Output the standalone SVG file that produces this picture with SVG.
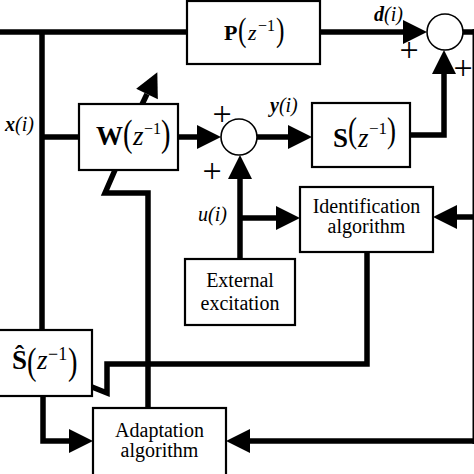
<svg xmlns="http://www.w3.org/2000/svg" width="474" height="474" viewBox="0 0 474 474">
<style>
.box{fill:#fff;stroke:#000;stroke-width:2.2}
.sum{fill:#fff;stroke:#000;stroke-width:1.6}
.wire{fill:none;stroke:#000;stroke-width:5.5}
text{font-family:"Liberation Serif","Times New Roman",serif;fill:#000}
.lbl{font-size:20px;text-anchor:middle}
.b{font-weight:bold}
.i{font-style:italic}
.sig{font-size:20px}
.pl{font-size:34px;text-anchor:middle}
</style>
<defs>
<marker id="ah" markerUnits="userSpaceOnUse" markerWidth="24" markerHeight="24" refX="0" refY="12" orient="auto" viewBox="0 0 24 24" overflow="visible"><path d="M0,0 L24,12 L0,24 z" fill="#000"/></marker>
</defs>
<rect width="474" height="474" fill="#fff"/>
<g id="connectors">
<path class="wire" d="M0,32 H187"/>
<path class="wire" d="M42,32 V330"/>
<path class="wire" d="M42,137 H79"/>
<path class="wire" d="M320,32 H403" marker-end="url(#ah)"/>
<path class="wire" d="M463,32 H474"/>
<path d="M474.5,29 V444" fill="none" stroke="#000" stroke-width="4"/>
<path class="wire" d="M474,217 H457" marker-end="url(#ah)"/>
<path class="wire" d="M474,441 H250" marker-end="url(#ah)"/>
<path class="wire" d="M410,135 H444 V74" marker-end="url(#ah)"/>
<path class="wire" d="M178,137 H197" marker-end="url(#ah)"/>
<path class="wire" d="M257,137 H288" marker-end="url(#ah)"/>
<path class="wire" d="M240,259 V179" marker-end="url(#ah)"/>
<path class="wire" d="M240,218 H276" marker-end="url(#ah)"/>
<path class="wire" d="M367,252 V364 H107 V393 L92,387"/>
<path class="wire" d="M43,396 V441 H69" marker-end="url(#ah)"/>
<path class="wire" d="M148,408 V193 H105 L115,170"/>
<path class="wire" d="M142,104.5 L147,94" marker-end="url(#ah)"/>
</g>
<g id="P">
<rect class="box" x="187" y="1" width="133" height="63"/>
<text><tspan class="b" x="224" y="40" font-size="22">P</tspan><tspan class="i" x="248" y="40" font-size="22">z</tspan><tspan x="258" y="31" font-size="16">−1</tspan></text>
<text font-size="34" transform="translate(238,41) scale(0.75,1)">(</text>
<text font-size="34" transform="translate(276,41) scale(0.75,1)">)</text>
</g>
<g id="sum1">
<circle class="sum" cx="445" cy="32" r="18"/>
</g>
<g id="W">
<rect class="box" x="79" y="104" width="99" height="66"/>
<text><tspan class="b" x="96" y="145" font-size="27">W</tspan><tspan class="i" x="133" y="145" font-size="27">z</tspan><tspan x="144" y="134" font-size="16">−1</tspan></text>
<text font-size="38" transform="translate(123,146) scale(0.75,1)">(</text>
<text font-size="38" transform="translate(161,146) scale(0.75,1)">)</text>
</g>
<g id="sum2">
<circle class="sum" cx="239" cy="137" r="18"/>
</g>
<g id="S">
<rect class="box" x="312" y="103" width="98" height="64"/>
<text><tspan class="b" x="333" y="147" font-size="27">S</tspan><tspan class="i" x="358" y="147" font-size="27">z</tspan><tspan x="369" y="134" font-size="17">−1</tspan></text>
<text font-size="36" transform="translate(348,142) scale(0.75,1)">(</text>
<text font-size="36" transform="translate(387,142) scale(0.75,1)">)</text>
</g>
<g id="ident">
<rect class="box" x="300" y="187" width="133" height="65"/>
<text class="lbl" x="366.5" y="213">Identification</text>
<text class="lbl" x="366.5" y="233">algorithm</text>
</g>
<g id="ext">
<rect class="box" x="185" y="259" width="110" height="66"/>
<text class="lbl" x="240" y="287">External</text>
<text class="lbl" x="240" y="310">excitation</text>
</g>
<g id="Shat">
<rect class="box" x="-3" y="330" width="95" height="66"/>
<text><tspan class="b" x="12" y="369" font-size="27">Ŝ</tspan><tspan class="i" x="37" y="369" font-size="27">z</tspan><tspan x="48" y="360" font-size="18">−1</tspan></text>
<text font-size="38" transform="translate(27,374) scale(0.75,1)">(</text>
<text font-size="38" transform="translate(68,374) scale(0.75,1)">)</text>
</g>
<g id="adapt">
<rect class="box" x="93" y="408" width="133" height="70"/>
<text class="lbl" x="159.5" y="437">Adaptation</text>
<text class="lbl" x="159.5" y="457">algorithm</text>
</g>
<g id="labels">
<text class="sig" x="5" y="131"><tspan class="b i">x</tspan><tspan class="i">(i)</tspan></text>
<text class="sig" x="374" y="21"><tspan class="b i">d</tspan><tspan class="i">(i)</tspan></text>
<text class="sig" x="270" y="112"><tspan class="b i">y</tspan><tspan class="i">(i)</tspan></text>
<text class="sig" x="198" y="221"><tspan class="i">u(i)</tspan></text>
<text class="pl" x="222" y="125">+</text>
<text class="pl" x="212" y="182">+</text>
<text class="pl" x="409" y="61">+</text>
<text class="pl" x="463" y="79">+</text>
</g>
</svg>
